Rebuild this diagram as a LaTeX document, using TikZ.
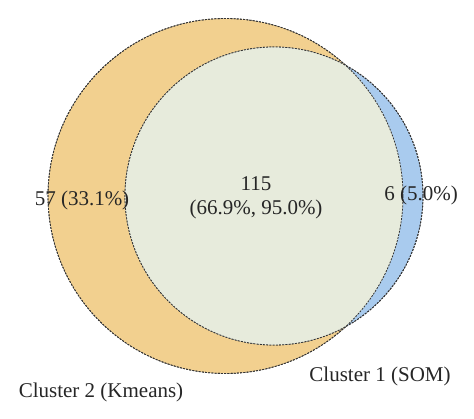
\documentclass[tikz,border=0pt]{standalone}
\usepackage{fontspec}
\setmainfont{Liberation Serif}
\usetikzlibrary{positioning}
\definecolor{KmeansOrange}{HTML}{F2D08F}
\definecolor{SomBlue}{HTML}{A9CBEE}
\definecolor{BothGreen}{HTML}{E7EBDC}
\definecolor{EdgeGray}{HTML}{333333}
\tikzset{setcirc/.style={circle,inner sep=0pt,draw=EdgeGray,line width=0.8pt,dash pattern=on 2pt off 1.2pt},lbl/.style={inner sep=0pt,align=center,font=\fontsize{21}{24}\selectfont,text=black!85}}

\begin{document}
\begin{tikzpicture}[x=1pt,y=1pt]
\useasboundingbox (0,0) rectangle (474,418);
\node[setcirc,fill=KmeansOrange,minimum size=355pt] (kmeans) at (225.5,222) {};
\node[setcirc,fill=SomBlue,minimum size=298pt] (som) at (274,222) {};
\begin{scope}
\clip (kmeans.center) circle (177.5pt);
\fill[BothGreen] (som.center) circle (149pt);
\end{scope}
\draw[setcirc] (kmeans.center) circle (177.5pt);
\draw[setcirc] (som.center) circle (149pt);
\node[lbl] (onlyk) at (82,218) {57 (33.1\%)};
\node[lbl] (both) at (256,220) {115\\(66.9\%, 95.0\%)};
\node[lbl] (onlys) at (421,223) {6 (5.0\%)};
\node[lbl] (somname) at (380,42) {Cluster 1 (SOM)};
\node[lbl] (kname) at (101,26) {Cluster 2 (Kmeans)};
\end{tikzpicture}
\end{document}
